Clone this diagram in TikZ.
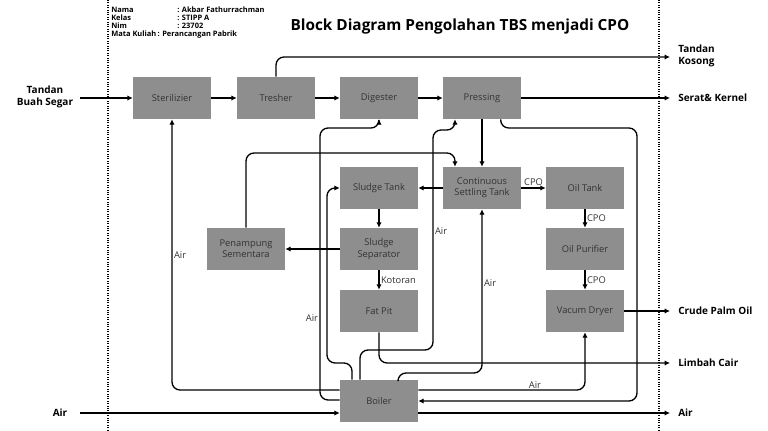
\documentclass[tikz,border=0pt]{standalone}
\usepackage{fontspec}
\setmainfont{Open Sans}
\usetikzlibrary{arrows.meta}
\definecolor{boxgray}{HTML}{8E8E8E}
\definecolor{txt}{HTML}{333333}
\begin{document}
\begin{tikzpicture}[x=0.75pt,y=-0.75pt,
  box/.style={fill=boxgray,draw=none,minimum width=58.5pt,minimum height=31.5pt,align=center,font=\fontsize{7}{8.5}\selectfont,text=txt,inner sep=1pt},
  ln/.style={line width=1pt,rounded corners=6pt},
  ar/.style={ln,-{Latex[length=4pt,width=4pt]}},
  lab/.style={font=\fontsize{7}{8}\selectfont,text=txt,inner sep=1pt},
  outlab/.style={font=\bfseries\fontsize{7.5}{9}\selectfont,align=left,anchor=west,inner sep=0pt}]
\useasboundingbox (0,0) rectangle (768,431);
\draw[densely dotted,line width=0.8pt] (108,0) -- (108,431);
\draw[densely dotted,line width=0.8pt] (659,0) -- (659,431);
\node[anchor=north west,inner sep=0pt,align=left,font=\bfseries\fontsize{5.6}{6.2}\selectfont] (hdr) at (111,6)
 {\begin{tabular}{@{}l@{}l@{}}Nama & \hspace{2.8em}: Akbar Fathurrachman\\Kelas & \hspace{2.8em}: STIPP A\\Nim & \hspace{2.8em}: 23702\\Mata Kuliah &\,: Perancangan Pabrik\end{tabular}};
\node[font=\bfseries\fontsize{11.5}{13}\selectfont] (title) at (460,27) {Block Diagram Pengolahan TBS menjadi CPO};

\node[box] (ster) at (172,98) {Sterilizier};
\node[box] (tres) at (276,98) {Tresher};
\node[box] (dig) at (379,98) {Digester};
\node[box] (pres) at (482,98) {Pressing};
\node[box] (cst) at (482,188) {Continuous\\Settling Tank};
\node[box] (slt) at (379,188) {Sludge Tank};
\node[box] (oilt) at (585,188) {Oil Tank};
\node[box] (pen) at (246,249) {Penampung\\Sementara};
\node[box] (sep) at (379,249) {Sludge\\Separator};
\node[box] (pur) at (585,249) {Oil Purifier};
\node[box] (fat) at (379,311) {Fat Pit};
\node[box] (dry) at (585,311) {Vacum Dryer};
\node[box] (boil) at (379,401) {Boiler};

\node[font=\bfseries\fontsize{7.5}{9}\selectfont,align=center] (tbs) at (45,97) {Tandan\\Buah Segar};
\node[font=\bfseries\fontsize{7.5}{9}\selectfont] (airin) at (60,413) {Air};
\node[outlab] (tk) at (678,56) {Tandan\\Kosong};
\node[outlab] (sk) at (678,98) {Serat\& Kernel};
\node[outlab] (cpo) at (678,311) {Crude Palm Oil};
\node[outlab] (lc) at (678,363) {Limbah Cair};
\node[outlab] (airout) at (678,413) {Air};
\coordinate (tkE) at (670,57);
\coordinate (skE) at (670,98);
\coordinate (cpoE) at (670,311);
\coordinate (lcE) at (670,363);
\coordinate (aoE) at (670,413);
\coordinate (tbsS) at (80,98);
\coordinate (aiS) at (80,413);

\draw[ar] (tbsS) -- (ster.west);
\draw[ar] (ster) -- (tres);
\draw[ar] (tres) -- (dig);
\draw[ar] (dig) -- (pres);
\draw[ar] (pres.east) -- (skE);
\draw[ar] (tres.north) |- (tkE);
\draw[ar] (pres.south) -- (cst.north);
\draw[ar] ([xshift=14pt]pres.south) |- (637,128) |- (boil.east |- 0,401);
\draw[ar] (cst.west) -- (slt.east);
\draw[ar] (cst.east) -- node[lab,above]{CPO} (oilt.west);
\draw[ar] (oilt) -- node[lab,right]{CPO} (pur);
\draw[ar] (pur) -- node[lab,right]{CPO} (dry);
\draw[ar] (slt) -- (sep);
\draw[ar] (sep) -- node[lab,right]{Kotoran} (fat);
\draw[ar] (sep.west) -- (pen.east);
\draw[ar] (pen.north) |- (455,153) -- (cst.north -| 455,0);
\draw[ar] (dry.east) -- (cpoE);
\draw[ar] (fat.south) |- (lcE);
\draw[ar] (aiS) -- (boil.west |- 0,413);
\draw[ar] (boil.east |- 0,413) -- (aoE);
\draw[ar] (boil.west |- 0,390) -| node[lab,pos=0.75,right]{Air} (ster.south);
\draw[ar] (boil.west |- 0,400) -| node[lab,pos=0.65,left]{Air} (320,128) -| (dig.south);
\draw[ar] (boil.north -| 352,0) |- (327,363) |- (slt.west);
\draw[ar] (boil.north -| 360,0) |- (433,350) |- node[lab,pos=0.27,right]{Air} (455,130) -- (pres.south -| 455,0);
\draw[ar] (boil.north -| 398,0) |- (482,373) -- node[lab,pos=0.55,right]{Air} (cst.south);
\draw[ar] (boil.east |- 0,390) -| node[lab,pos=0.35,above]{Air} (dry.south);
\end{tikzpicture}
\end{document}
